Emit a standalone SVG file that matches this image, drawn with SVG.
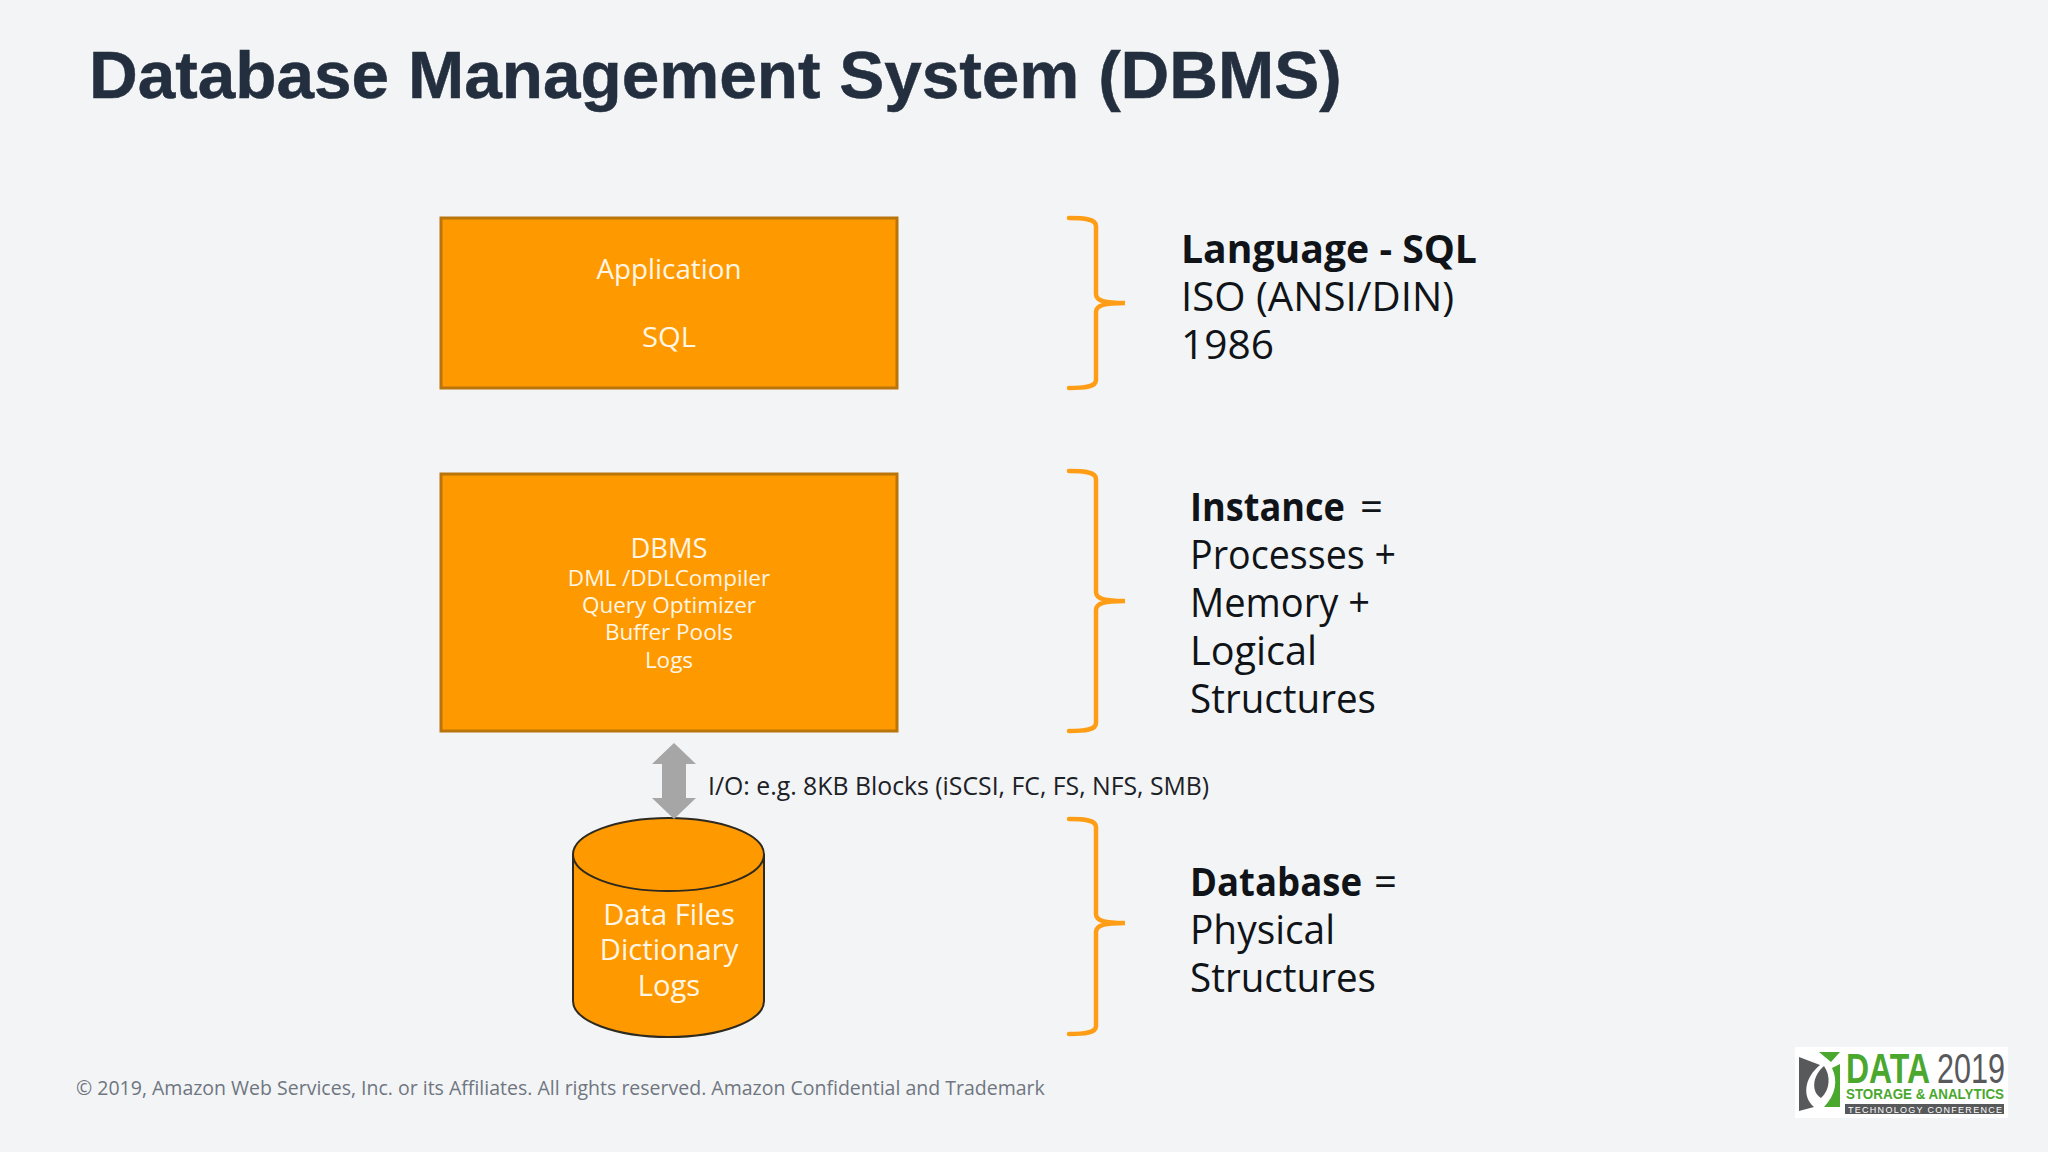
<svg xmlns="http://www.w3.org/2000/svg" width="2048" height="1152" viewBox="0 0 2048 1152">
<defs><style>
.t{font-family:"Open Sans","Noto Sans","Liberation Sans",sans-serif}
.box{fill:#ff9900;stroke:#b9740c;stroke-width:3}
.w{fill:#fff6e6;text-anchor:middle}
.k{fill:#101418;font-size:40px}
.b{font-weight:700}
.brace{fill:none;stroke:#ff9e16;stroke-width:4.500;stroke-linecap:round}
.cyl{fill:#ff9900;stroke:#2e2a20;stroke-width:2}
.lg{font-family:"Liberation Sans",sans-serif}
</style></defs>
<rect width="2048" height="1152" fill="#f3f4f6"/>
<text x="89" y="98" font-family="'Liberation Sans',Arial,sans-serif" font-weight="700" font-size="67.500" fill="#232f3e" stroke="#232f3e" stroke-width="0.500">Database Management System (DBMS)</text>
<g id="node-application">
<rect class="box" x="441" y="218" width="456" height="170"/>
<text class="t w" x="669" y="279" font-size="28" textLength="145" lengthAdjust="spacingAndGlyphs">Application</text>
<text class="t w" x="669" y="347" font-size="28" textLength="54" lengthAdjust="spacingAndGlyphs">SQL</text>
</g>
<g id="node-dbms">
<rect class="box" x="441" y="474" width="456" height="257"/>
<text class="t w" x="669" y="558" font-size="28" textLength="77" lengthAdjust="spacingAndGlyphs">DBMS</text>
<text class="t w" x="669" y="586" font-size="22.500">DML /DDLCompiler</text>
<text class="t w" x="669" y="613" font-size="22.500">Query Optimizer</text>
<text class="t w" x="669" y="640" font-size="22.500">Buffer Pools</text>
<text class="t w" x="669" y="668" font-size="22.500">Logs</text>
</g>
<g id="node-database">
<path class="cyl" d="M573 854V1001C573 1021 616 1037 668.500 1037S764 1021 764 1001V854"/>
<ellipse class="cyl" cx="668.500" cy="854.500" rx="95.500" ry="36.500"/>
<text class="t w" x="669" y="925" font-size="29.200">Data Files</text>
<text class="t w" x="669" y="960" font-size="29.200">Dictionary</text>
<text class="t w" x="669" y="996" font-size="29.200">Logs</text>
</g>
<g id="connectors">
<path id="io-arrow" fill="#a6a6a6" d="M674 743L696 764H686V798H696L674 819L652 798H662V764H652Z"/>
<path class="brace" d="M1069 218C1085 218 1096 219 1096 226V294C1096 301 1105 303 1125 303C1105 303 1096 305 1096 312V380C1096 387 1085 388 1069 388"/>
<path class="brace" d="M1069 471C1085 471 1096 472 1096 479V592C1096 599 1105 601 1125 601C1105 601 1096 603 1096 610V723C1096 730 1085 731 1069 731"/>
<path class="brace" d="M1069 819C1085 819 1096 820 1096 827V914C1096 921 1105 923 1125 923C1105 923 1096 925 1096 932V1026C1096 1033 1085 1034 1069 1034"/>
</g>
<text class="t" x="708" y="794.500" font-size="24.800" fill="#1c2126">I/O: e.g. 8KB Blocks (iSCSI, FC, FS, NFS, SMB)</text>
<g id="label-language" class="t k">
<text class="b" x="1181" y="263" textLength="296" lengthAdjust="spacingAndGlyphs">Language - SQL</text>
<text x="1181" y="311" textLength="273" lengthAdjust="spacingAndGlyphs">ISO (ANSI/DIN)</text>
<text x="1181" y="359" textLength="93" lengthAdjust="spacingAndGlyphs">1986</text>
</g>
<g id="label-instance" class="t k">
<text x="1190" y="521"><tspan class="b" textLength="155" lengthAdjust="spacingAndGlyphs">Instance</tspan><tspan x="1360">=</tspan></text>
<text x="1190" y="569" textLength="206" lengthAdjust="spacingAndGlyphs">Processes +</text>
<text x="1190" y="617" textLength="180" lengthAdjust="spacingAndGlyphs">Memory +</text>
<text x="1190" y="665" textLength="127" lengthAdjust="spacingAndGlyphs">Logical</text>
<text x="1190" y="713" textLength="186" lengthAdjust="spacingAndGlyphs">Structures</text>
</g>
<g id="label-database" class="t k">
<text x="1190" y="896"><tspan class="b" textLength="172" lengthAdjust="spacingAndGlyphs">Database</tspan><tspan x="1374">=</tspan></text>
<text x="1190" y="944" textLength="145" lengthAdjust="spacingAndGlyphs">Physical</text>
<text x="1190" y="992" textLength="186" lengthAdjust="spacingAndGlyphs">Structures</text>
</g>
<text class="t" x="76" y="1094.500" font-size="19.500" fill="#6f7680">© 2019, Amazon Web Services, Inc. or its Affiliates. All rights reserved. Amazon Confidential and Trademark</text>
<g id="logo">
<rect x="1795" y="1047" width="213" height="71" fill="#fff"/>
<path fill="#58595b" d="M1799 1057L1820 1065C1804 1078 1802 1097 1814 1107L1799 1111Z"/>
<path fill="#58595b" d="M1824 1066C1831 1076 1830 1090 1821 1098C1811 1092 1812 1076 1824 1066Z"/>
<path fill="#4aa82e" d="M1819 1052H1840L1831 1062ZM1840 1064V1107H1824C1836 1095 1838 1080 1832 1068Z"/>
<text class="lg" x="1846" y="1083" font-weight="700" font-size="43" fill="#4aa82e" textLength="84" lengthAdjust="spacingAndGlyphs">DATA</text>
<text class="lg" x="1937" y="1083" font-size="43" fill="#58595b" textLength="68" lengthAdjust="spacingAndGlyphs">2019</text>
<text class="lg" x="1846" y="1099" font-weight="700" font-size="15" fill="#4aa82e" textLength="158" lengthAdjust="spacingAndGlyphs">STORAGE &amp; ANALYTICS</text>
<rect x="1845" y="1104" width="159" height="10" fill="#58595b"/>
<text class="lg" x="1848" y="1112.500" font-size="9" fill="#fff" textLength="154">TECHNOLOGY CONFERENCE</text>
</g>
</svg>
